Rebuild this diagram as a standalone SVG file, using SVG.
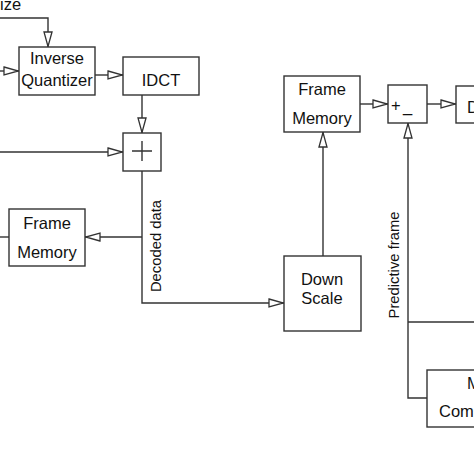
<svg xmlns="http://www.w3.org/2000/svg" width="474" height="474" viewBox="0 0 474 474">
<defs>
<style>
.box{fill:#fff;stroke:#333;stroke-width:1.4}
.ln{fill:none;stroke:#333;stroke-width:1.4}
.t{font-family:"Liberation Sans",Arial,sans-serif;font-size:16.5px;fill:#111;text-anchor:middle}
.tl{font-family:"Liberation Sans",Arial,sans-serif;font-size:16.5px;fill:#111}
.r{font-family:"Liberation Sans",Arial,sans-serif;font-size:14.8px;fill:#111;text-anchor:middle}
</style>
<marker id="ah" viewBox="0 0 16 10" refX="16" refY="5" markerWidth="16" markerHeight="10" markerUnits="userSpaceOnUse" orient="auto">
<path d="M1,1 L15.5,5 L1,9 Z" fill="#fff" stroke="#333" stroke-width="1.3"/>
</marker>
</defs>
<rect width="474" height="474" fill="#fff"/>
<g id="connectors">
<path class="ln" d="M0,18 H48 V47" marker-end="url(#ah)"/>
<path class="ln" d="M0,71 H19" marker-end="url(#ah)"/>
<path class="ln" d="M95,75 H123" marker-end="url(#ah)"/>
<path class="ln" d="M142,95 V133" marker-end="url(#ah)"/>
<path class="ln" d="M0,152 H123" marker-end="url(#ah)"/>
<path class="ln" d="M142,171 V303 H284" marker-end="url(#ah)"/>
<path class="ln" d="M142,237 H85" marker-end="url(#ah)"/>
<path class="ln" d="M0,237 H9"/>
<path class="ln" d="M323,256 V132" marker-end="url(#ah)"/>
<path class="ln" d="M360,104 H388" marker-end="url(#ah)"/>
<path class="ln" d="M427,104 H456" marker-end="url(#ah)"/>
<path class="ln" d="M427,398 H408 V123" marker-end="url(#ah)"/>
<path class="ln" d="M408,322 H474"/>
<text class="r" transform="translate(161,246) rotate(-90)">Decoded data</text>
<text class="r" transform="translate(399,265) rotate(-90)">Predictive frame</text>
</g>
<g id="label-top"><text class="tl" x="0" y="10">ize</text></g>
<g id="inverse-quantizer">
<rect class="box" x="19" y="47" width="76" height="48"/>
<text class="t" x="57" y="64">Inverse</text>
<text class="t" x="57" y="86">Quantizer</text>
</g>
<g id="idct">
<rect class="box" x="123" y="57" width="76" height="38"/>
<text class="t" x="161" y="86">IDCT</text>
</g>
<g id="adder">
<rect class="box" x="123" y="133" width="38" height="38"/>
<path class="ln" d="M132,151 H152 M142,141 V161"/>
</g>
<g id="frame-memory-left">
<rect class="box" x="9" y="209" width="76" height="57"/>
<text class="t" x="47" y="229">Frame</text>
<text class="t" x="47" y="258">Memory</text>
</g>
<g id="frame-memory-right">
<rect class="box" x="284" y="76" width="76" height="56"/>
<text class="t" x="322" y="95">Frame</text>
<text class="t" x="322" y="124">Memory</text>
</g>
<g id="down-scale">
<rect class="box" x="284" y="256" width="77" height="75"/>
<text class="t" x="322" y="285">Down</text>
<text class="t" x="322" y="304">Scale</text>
</g>
<g id="subtractor">
<rect class="box" x="388" y="85" width="39" height="38"/>
<text class="tl" x="391" y="111">+</text>
<text class="tl" x="403" y="112">_</text>
</g>
<g id="d-box">
<rect class="box" x="456" y="86" width="30" height="37"/>
<text class="tl" x="467" y="113">D</text>
</g>
<g id="motion-comp">
<rect class="box" x="427" y="370" width="60" height="57"/>
<text class="tl" x="467" y="389">M</text>
<text class="tl" x="439" y="417">Com</text>
</g>
</svg>
